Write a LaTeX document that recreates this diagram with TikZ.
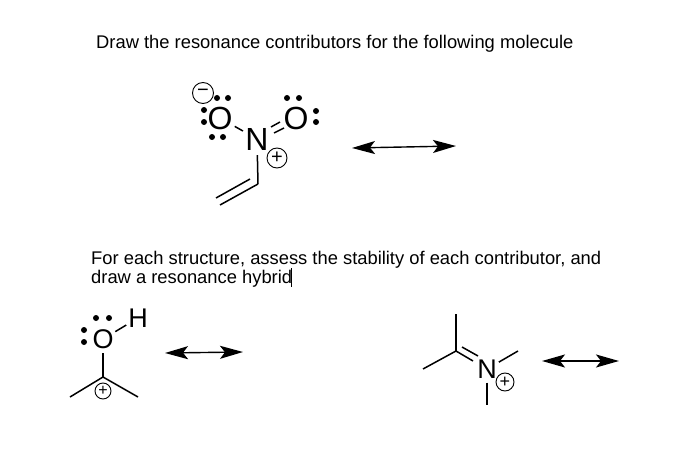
\documentclass[tikz,border=0pt]{standalone}
\usepackage{fontspec}
\setmainfont{Liberation Sans}
\usetikzlibrary{arrows.meta}

\tikzset{
    bigatom/.style={circle, inner sep=0pt, minimum size=31pt, font=\fontsize{32}{32}\selectfont},
    smallatom/.style={circle, inner sep=0pt, minimum size=27pt, font=\fontsize{27}{27}\selectfont},
    charge/.style={circle, draw, line width=0.9pt, inner sep=0pt, font=\fontsize{20}{20}\selectfont},
    lonepair/.style={circle, fill, inner sep=0pt, minimum size=6pt},
    bond/.style={line width=1.5pt},
    resarrow/.style={{Stealth[length=23pt, width=13pt, inset=5pt]}-{Stealth[length=23pt, width=13pt, inset=5pt]}, line width=1.4pt},
    prose/.style={anchor=base west, inner sep=0pt, font=\fontsize{18.35}{18.35}\selectfont},
}

\begin{document}
\begin{tikzpicture}[x=1pt, y=-1pt]

    \useasboundingbox (0, 0) rectangle (675, 452);

    \node[prose] (title) at (96, 49) {Draw the resonance contributors for the following molecule};
    \node[prose] (assess1) at (91, 264) {For each structure, assess the stability of each contributor, and};
    \node[prose] (assess2) at (91, 283) {draw a resonance hybrid};
    \coordinate (caret1) at (291, 268);
    \coordinate (caret2) at (291, 287);
    \draw[line width=0.8pt] (caret1) -- (caret2);

    % nitro group
    \node[bigatom] (oleft) at (220, 118) {O};
    \node[bigatom] (oright) at (296, 118) {O};
    \node[bigatom] (nitro) at (257, 139) {N};
    \node[charge, minimum size=21pt] (minus) at (203, 93) {−};
    \node[charge, minimum size=20pt] (plusa) at (277, 158) {+};

    \foreach \x/\y in {217/98, 228/98, 204/110, 204/122, 212/137, 223/137, 287/98, 299/98, 316/111, 316/122}
        \node[lonepair] (lp\x\y) at (\x, \y) {};

    \coordinate (vinyl1) at (258, 184);
    \coordinate (vinyl1b) at (250, 179);
    \coordinate (vinyl2) at (220, 205);
    \coordinate (vinyl2b) at (216, 198);
    \coordinate (nod1) at (271, 127);
    \coordinate (nod2) at (280, 122);
    \coordinate (nod3) at (274, 133);
    \coordinate (nod4) at (284, 128);

    \draw[bond] (oleft) -- (nitro);
    \draw[bond] (nod1) -- (nod2);
    \draw[bond] (nod3) -- (nod4);
    \draw[bond] (nitro) -- (vinyl1);
    \draw[bond] (vinyl1) -- (vinyl2);
    \draw[bond] (vinyl1b) -- (vinyl2b);

    \coordinate (arrowa1) at (352, 148);
    \coordinate (arrowa2) at (456, 146);
    \draw[resarrow] (arrowa1) -- (arrowa2);

    % protonated ketone
    \node[smallatom] (oxy) at (103, 339) {O};
    \node[smallatom] (hyd) at (138, 318) {H};
    \node[charge, minimum size=16pt, font=\fontsize{16}{16}\selectfont] (plusb) at (103, 391) {+};

    \foreach \x/\y in {96/318, 109/318, 84/330, 84/342}
        \node[lonepair] (lp\x\y) at (\x, \y) {};

    \coordinate (carb) at (103, 377);
    \coordinate (mea) at (70, 397);
    \coordinate (meb) at (138, 397);

    \draw[bond] (oxy) -- (hyd);
    \draw[bond] (oxy) -- (carb);
    \draw[bond] (carb) -- (mea);
    \draw[bond] (carb) -- (meb);

    \coordinate (arrowb1) at (165, 353);
    \coordinate (arrowb2) at (243, 352);
    \draw[resarrow] (arrowb1) -- (arrowb2);

    % iminium
    \node[smallatom] (imn) at (487, 369) {N};
    \node[charge, minimum size=18pt, font=\fontsize{18}{18}\selectfont] (plusc) at (505, 382) {+};

    \coordinate (imc) at (456, 351);
    \coordinate (imtop) at (456, 314);
    \coordinate (imleft) at (423, 369);
    \coordinate (imd1) at (473, 361);
    \coordinate (imd2) at (462, 347);
    \coordinate (imd3) at (478, 356);
    \coordinate (imright) at (518, 351);
    \coordinate (imdown) at (487, 405);

    \draw[bond] (imc) -- (imtop);
    \draw[bond] (imc) -- (imleft);
    \draw[bond] (imc) -- (imd1);
    \draw[bond] (imd2) -- (imd3);
    \draw[bond] (imn) -- (imright);
    \draw[bond] (imn) -- (imdown);

    \coordinate (arrowc1) at (542, 361);
    \coordinate (arrowc2) at (619, 361);
    \draw[resarrow] (arrowc1) -- (arrowc2);

\end{tikzpicture}
\end{document}
